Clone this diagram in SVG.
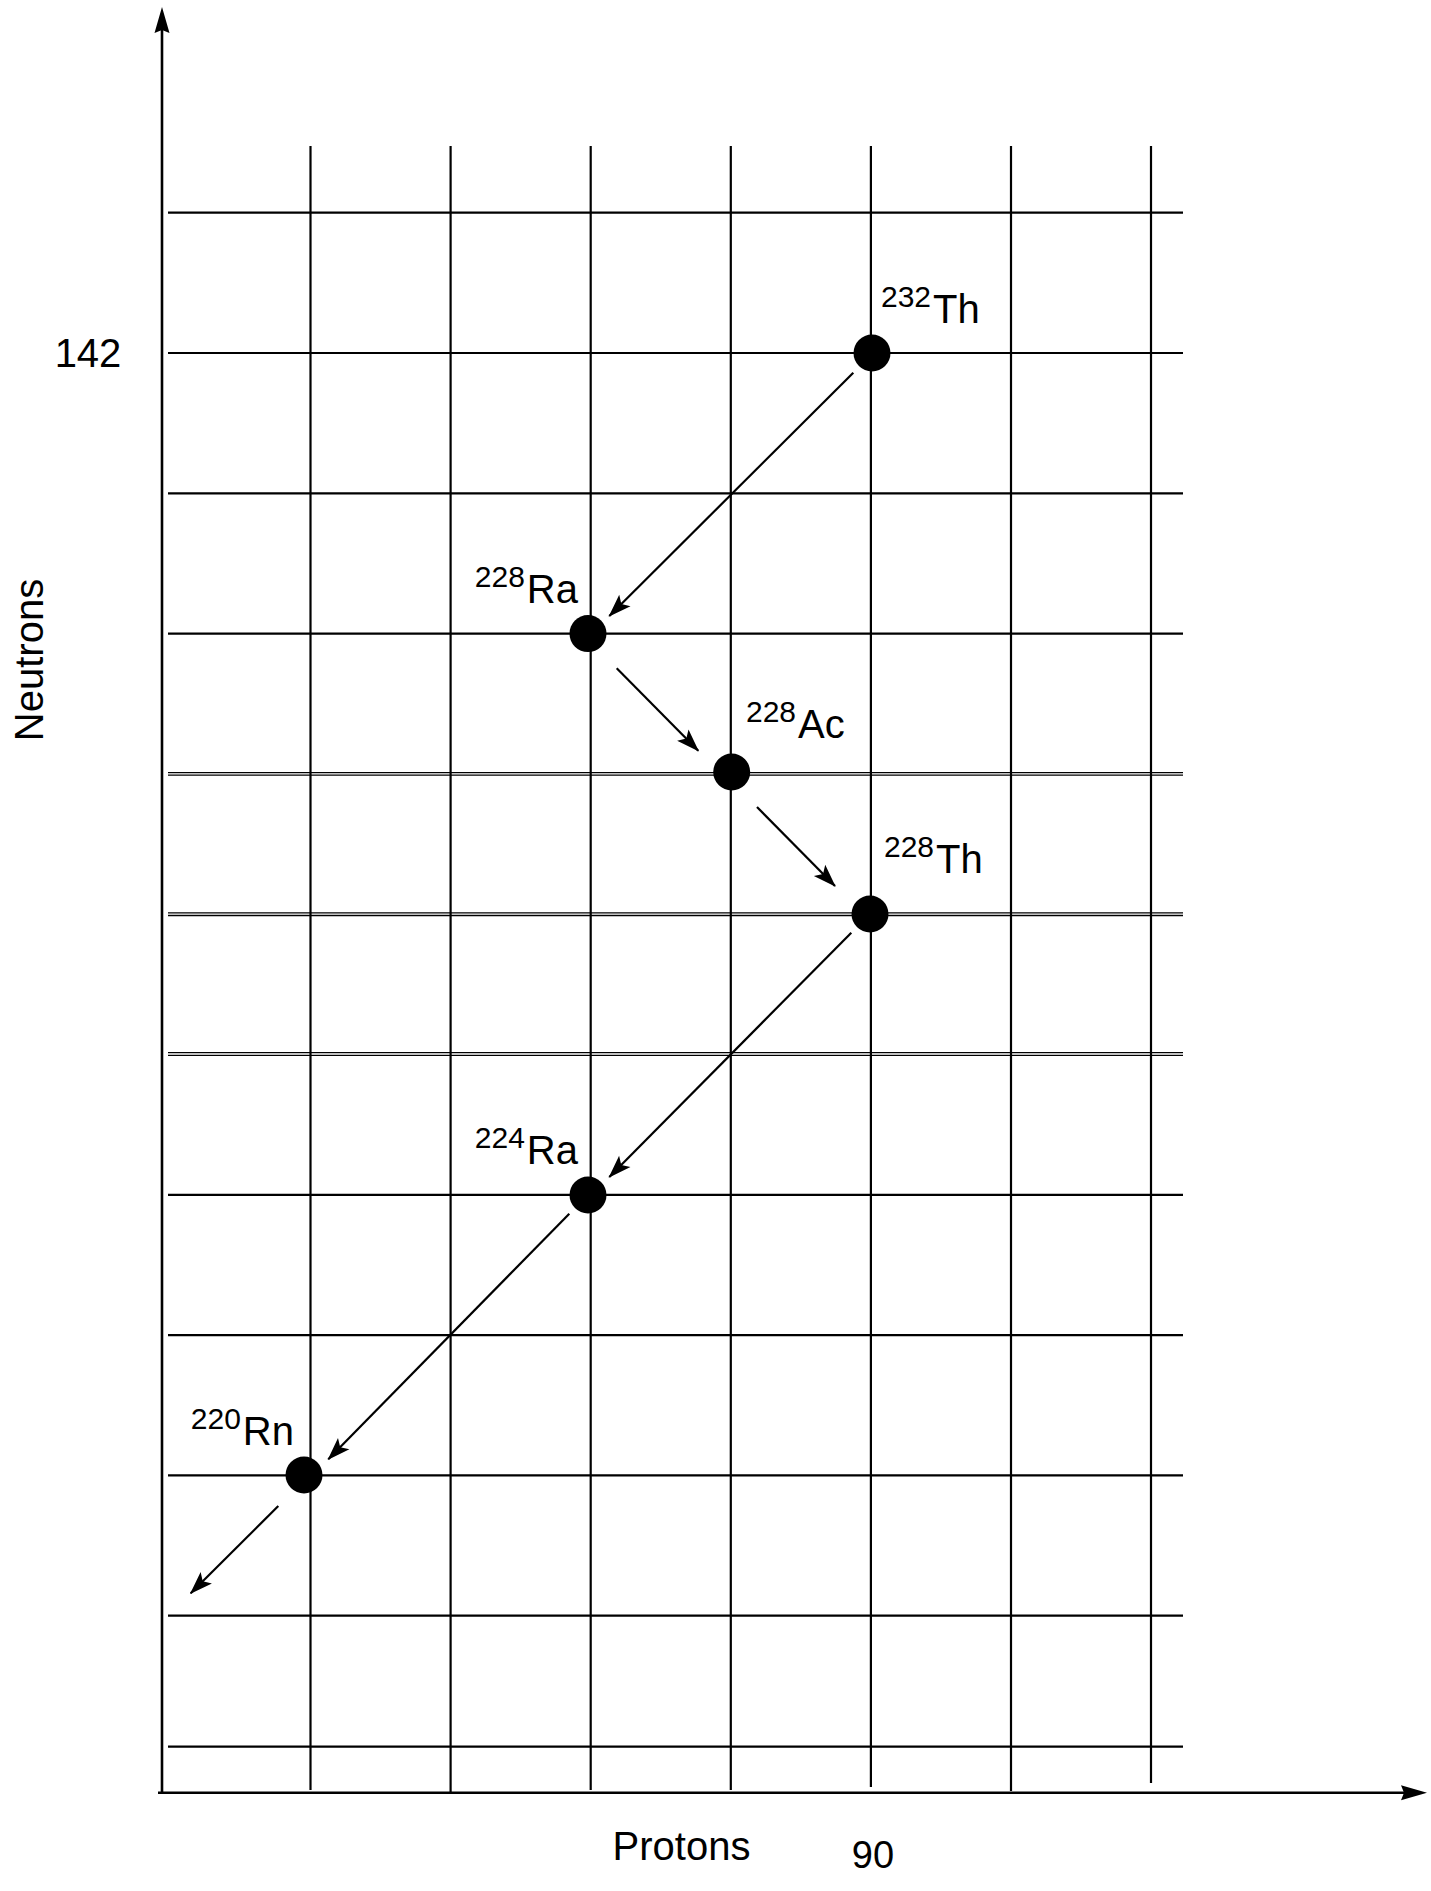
<svg xmlns="http://www.w3.org/2000/svg" width="1431" height="1891" viewBox="0 0 1431 1891">
<style>
.g{stroke:#000;stroke-width:2.2;fill:none}
.d{stroke:#000;stroke-width:1.3;fill:none}
.ax{stroke:#000;stroke-width:2.6;fill:none}
.ar{stroke:#000;stroke-width:2.2;fill:none;marker-end:url(#ah)}
.dot{fill:#000}
text{font-family:"Liberation Sans",Arial,sans-serif;fill:#000}
.lb{font-size:40px}
.sup{font-size:30px}
</style>
<defs>
<marker id="ah" markerUnits="userSpaceOnUse" viewBox="-24 -10 26 20" markerWidth="26" markerHeight="20" refX="0" refY="0" orient="auto">
<path d="M1,0 L-22,-8 L-17,0 L-22,8 Z" fill="#000"/>
</marker>
</defs>
<rect x="0" y="0" width="1431" height="1891" fill="#fff"/>
<g id="grid">
<line class="g" x1="310.5" y1="146" x2="310.5" y2="1790"/>
<line class="g" x1="450.6" y1="146" x2="450.6" y2="1793"/>
<line class="g" x1="590.7" y1="146" x2="590.7" y2="1790"/>
<line class="g" x1="730.8" y1="146" x2="730.8" y2="1790"/>
<line class="g" x1="870.9" y1="146" x2="870.9" y2="1787"/>
<line class="g" x1="1011" y1="146" x2="1011" y2="1791"/>
<line class="g" x1="1151" y1="146" x2="1151" y2="1783"/>
<line class="g" x1="168" y1="212.7" x2="1183" y2="212.7"/>
<line class="g" x1="168" y1="353" x2="1183" y2="353"/>
<line class="g" x1="168" y1="493.3" x2="1183" y2="493.3"/>
<line class="g" x1="168" y1="633.6" x2="1183" y2="633.6"/>
<line class="d" x1="168" y1="772.6" x2="1183" y2="772.6"/>
<line class="d" x1="168" y1="775.2" x2="1183" y2="775.2"/>
<line class="d" x1="168" y1="912.9" x2="1183" y2="912.9"/>
<line class="d" x1="168" y1="915.5" x2="1183" y2="915.5"/>
<line class="d" x1="168" y1="1052.7" x2="1183" y2="1052.7"/>
<line class="d" x1="168" y1="1055.3" x2="1183" y2="1055.3"/>
<line class="g" x1="168" y1="1194.8" x2="1183" y2="1194.8"/>
<line class="g" x1="168" y1="1335.1" x2="1183" y2="1335.1"/>
<line class="g" x1="168" y1="1475.4" x2="1183" y2="1475.4"/>
<line class="g" x1="168" y1="1615.7" x2="1183" y2="1615.7"/>
<line class="g" x1="168" y1="1746.7" x2="1183" y2="1746.7"/>
</g>
<g id="axes">
<line class="ax" x1="162" y1="1793" x2="162" y2="28"/>
<path d="M162,7 L169.5,33 L162,30 L154.5,33 Z" fill="#000"/>
<line class="ax" x1="158" y1="1792.7" x2="1406" y2="1792.7"/>
<path d="M1427,1792.7 L1401,1800.2 L1404,1792.7 L1401,1785.2 Z" fill="#000"/>
<text x="88" y="367" class="lb" text-anchor="middle" font-size="39">142</text>
<text transform="translate(43,660) rotate(-90)" font-size="40" text-anchor="middle">Neutrons</text>
<text x="681.5" y="1860" font-size="40" text-anchor="middle">Protons</text>
<text x="873" y="1868" font-size="38" text-anchor="middle">90</text>
</g>
<g id="connectors">
<line class="ar" x1="853.3" y1="372.7" x2="609.3" y2="616"/>
<line class="ar" x1="616.7" y1="668.3" x2="698.3" y2="750.7"/>
<line class="ar" x1="757" y1="807" x2="835" y2="886"/>
<line class="ar" x1="851.3" y1="932.7" x2="609.3" y2="1177"/>
<line class="ar" x1="569.3" y1="1213.7" x2="328.3" y2="1459.3"/>
<line class="ar" x1="278.3" y1="1506" x2="190.7" y2="1593.3"/>
</g>
<g id="n-th232">
<circle class="dot" cx="872" cy="353" r="18.5"/>
<text x="881" y="323"><tspan class="sup" dy="-16">232</tspan><tspan class="lb" dy="16" dx="2">Th</tspan></text>
</g>
<g id="n-ra228">
<circle class="dot" cx="588" cy="633.6" r="18.5"/>
<text x="578" y="603" text-anchor="end"><tspan class="sup" dy="-16">228</tspan><tspan class="lb" dy="16" dx="2">Ra</tspan></text>
</g>
<g id="n-ac228">
<circle class="dot" cx="731.7" cy="772" r="18.5"/>
<text x="746" y="738"><tspan class="sup" dy="-16">228</tspan><tspan class="lb" dy="16" dx="2">Ac</tspan></text>
</g>
<g id="n-th228">
<circle class="dot" cx="870" cy="914" r="18.5"/>
<text x="884" y="873"><tspan class="sup" dy="-16">228</tspan><tspan class="lb" dy="16" dx="2">Th</tspan></text>
</g>
<g id="n-ra224">
<circle class="dot" cx="588" cy="1195" r="18.5"/>
<text x="578" y="1164" text-anchor="end"><tspan class="sup" dy="-16">224</tspan><tspan class="lb" dy="16" dx="2">Ra</tspan></text>
</g>
<g id="n-rn220">
<circle class="dot" cx="304" cy="1475" r="18.5"/>
<text x="294" y="1445" text-anchor="end"><tspan class="sup" dy="-16">220</tspan><tspan class="lb" dy="16" dx="2">Rn</tspan></text>
</g>
</svg>
